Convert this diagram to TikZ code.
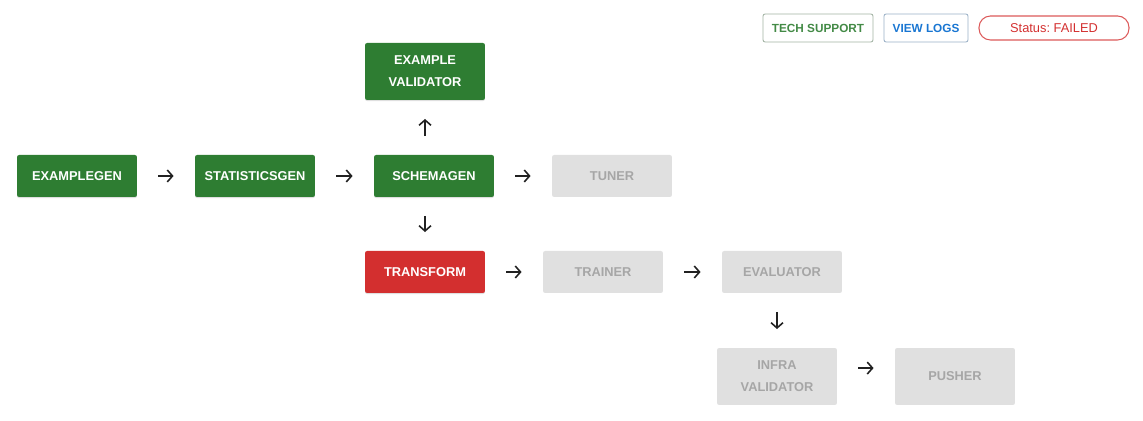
\documentclass[tikz,border=0pt]{standalone}
\usepackage{fontspec}
\setmainfont{Liberation Sans}
\usetikzlibrary{shadows,arrows.meta}
\definecolor{tfxGreen}{HTML}{2E7D32}
\definecolor{tfxRed}{HTML}{D32F2F}
\definecolor{tfxGrey}{HTML}{E0E0E0}
\definecolor{tfxGreyText}{HTML}{A6A6A6}
\definecolor{tfxBlue}{HTML}{1976D2}
\definecolor{tfxInk}{HTML}{212121}

\begin{document}
\begin{tikzpicture}[x=0.02cm, y=0.02cm]%
  \tikzset{step box/.style={rectangle, rounded corners=1.2pt, minimum width=2.4cm, minimum height=0.84cm, inner sep=0pt, align=center, font=\fontsize{7.3}{12.5}\selectfont\bfseries},
    done/.style={step box, fill=tfxGreen, text=white, drop shadow={shadow xshift=0pt, shadow yshift=-0.6pt, opacity=0.25}},
    failed/.style={step box, fill=tfxRed, text=white, drop shadow={shadow xshift=0pt, shadow yshift=-0.6pt, opacity=0.25}},
    pending/.style={step box, fill=tfxGrey, text=tfxGreyText},
    tall/.style={minimum height=1.14cm},
    flow/.style={draw, tfxInk, line width=0.9pt, -{Straight Barb[length=3pt, width=6.8pt, line width=0.9pt]}, shorten <=12pt, shorten >=12pt},
    vflow/.style={flow, shorten <=10.6pt, shorten >=10.6pt},
    button/.style={rectangle, rounded corners=1.2pt, draw, line width=0.5pt, minimum height=0.56cm, inner sep=0pt, font=\fontsize{6.7}{9}\selectfont\bfseries}}

  \useasboundingbox (0,0) rectangle (1143,-421);

  % top bar
  \node[button, draw=tfxGreen!35!gray!60, text=tfxGreen!90, minimum width=2.2cm] (support) at (818,-28) {TECH SUPPORT};
  \node[button, draw=tfxBlue!40!gray!60, text=tfxBlue, minimum width=1.68cm] (logs) at (926,-28) {VIEW LOGS};
  \node[rectangle, rounded corners=6.5pt, draw=tfxRed!80, line width=0.6pt, minimum width=3cm, minimum height=0.48cm, inner sep=0pt, text=tfxRed, font=\fontsize{7.3}{9}\selectfont] (status) at (1054,-28) {Status:\ FAILED};

  % pipeline
  \node[done] (examplegen) at (77,-176) {EXAMPLEGEN};
  \node[done] (statsgen) at (255,-176) {STATISTICSGEN};
  \node[done] (schemagen) at (434,-176) {SCHEMAGEN};
  \node[done, tall] (validator) at (425,-71.5) {EXAMPLE\\VALIDATOR};
  \node[pending] (tuner) at (612,-176) {TUNER};
  \node[failed] (transform) at (425,-272) {TRANSFORM};
  \node[pending] (trainer) at (603,-272) {TRAINER};
  \node[pending] (evaluator) at (782,-272) {EVALUATOR};
  \node[pending, tall] (infra) at (777,-376.5) {INFRA\\VALIDATOR};
  \node[pending, tall] (pusher) at (955,-376.5) {PUSHER};

  \path (examplegen) edge[flow] (statsgen);
  \path (statsgen) edge[flow] (schemagen);
  \path (schemagen) edge[flow] (tuner);
  \path (schemagen.north -| validator) edge[vflow] (validator.south);
  \path (schemagen.south -| transform) edge[vflow] (transform.north);
  \path (transform) edge[flow] (trainer);
  \path (trainer) edge[flow] (evaluator);
  \path (evaluator.south -| infra) edge[vflow] (infra.north);
  \path ([yshift=4.8pt]infra.east) edge[flow] ([yshift=4.8pt]pusher.west);
\end{tikzpicture}
\end{document}
